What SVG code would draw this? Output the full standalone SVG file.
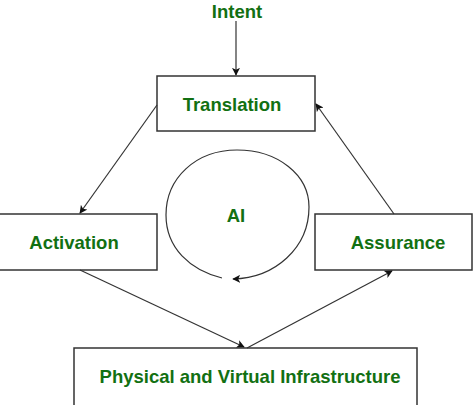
<svg xmlns="http://www.w3.org/2000/svg" width="474" height="405" viewBox="0 0 474 405">
<style>
.box{fill:#fff;stroke:#333;stroke-width:1.5}
.lbl{font-family:"Liberation Sans",Arial,sans-serif;font-weight:bold;font-size:18.5px;fill:#127012;text-anchor:middle}
.edge{fill:none;stroke:#333;stroke-width:1.2}
</style>
<defs>
<marker id="arr" viewBox="0 0 10 10" refX="9" refY="5" markerWidth="8" markerHeight="8" markerUnits="userSpaceOnUse" orient="auto">
<path d="M0,0 L10,5 L0,10 L2.5,5 Z" fill="#111"/>
</marker>
</defs>
<rect width="474" height="405" fill="#fff"/>
<g id="intent"><text class="lbl" x="237" y="18">Intent</text></g>
<g id="translation"><rect class="box" x="157" y="76" width="158" height="55"/><text class="lbl" x="232" y="111">Translation</text></g>
<g id="activation"><rect class="box" x="-1" y="214" width="158" height="56"/><text class="lbl" x="74" y="249">Activation</text></g>
<g id="assurance"><rect class="box" x="315" y="214" width="157" height="56"/><text class="lbl" x="398" y="249">Assurance</text></g>
<g id="infra"><rect class="box" x="74" y="348" width="343" height="70"/><text class="lbl" x="250" y="383">Physical and Virtual Infrastructure</text></g>
<g id="ai"><text class="lbl" x="236" y="222">AI</text></g>
<g id="connectors">
<line class="edge" x1="236" y1="21" x2="236" y2="75" marker-end="url(#arr)"/>
<line class="edge" x1="157" y1="105" x2="80" y2="213" marker-end="url(#arr)"/>
<line class="edge" x1="394" y1="214" x2="316" y2="104" marker-end="url(#arr)"/>
<line class="edge" x1="80" y1="270" x2="244" y2="347" marker-end="url(#arr)"/>
<line class="edge" x1="247" y1="348" x2="392" y2="271" marker-end="url(#arr)"/>
<path class="edge" d="M222,278 C190,270 166,248 166,215 C166,178 196,150 237,150 C278,150 309,175 309,207 C309,248 275,278 233,279" marker-end="url(#arr)"/>
</g>
</svg>
